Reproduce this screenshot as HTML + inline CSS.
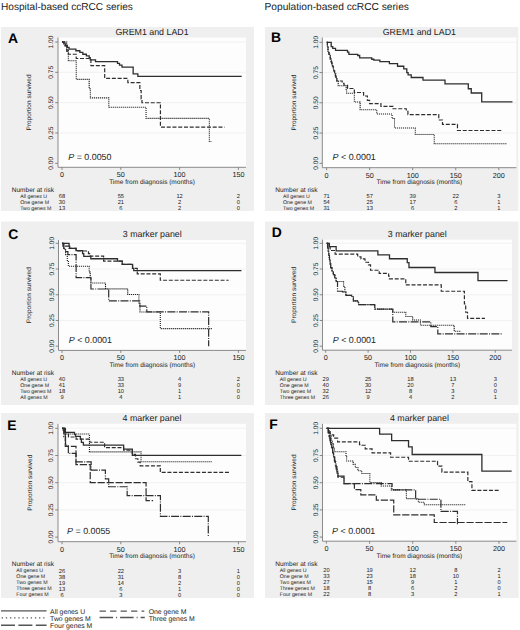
<!DOCTYPE html>
<html><head><meta charset="utf-8"><style>
html,body{margin:0;padding:0;background:#fff;}
svg{display:block;font-family:"Liberation Sans", sans-serif;}
</style></head><body>
<svg width="520" height="630" viewBox="0 0 520 630" text-rendering="geometricPrecision">
<text x="1.00" y="9.50" font-size="10.1" text-anchor="start" font-weight="normal" font-style="normal" fill="#222">Hospital-based ccRCC series</text>
<text x="264.50" y="9.50" font-size="10.2" text-anchor="start" font-weight="normal" font-style="normal" fill="#222">Population-based ccRCC series</text>
<rect x="1" y="27" width="253.00" height="184.00" fill="#efefef"/>
<rect x="58" y="37.5" width="188.00" height="129.80" fill="#fdfdfd"/>
<line x1="58.00" y1="132.98" x2="246.00" y2="132.98" stroke="#efefef" stroke-width="0.9"/>
<line x1="58.00" y1="102.65" x2="246.00" y2="102.65" stroke="#efefef" stroke-width="0.9"/>
<line x1="58.00" y1="72.33" x2="246.00" y2="72.33" stroke="#efefef" stroke-width="0.9"/>
<line x1="58.00" y1="42.00" x2="246.00" y2="42.00" stroke="#efefef" stroke-width="0.9"/>
<line x1="58.00" y1="37.50" x2="58.00" y2="167.30" stroke="#8a8a8a" stroke-width="1"/>
<line x1="58.00" y1="167.30" x2="246.00" y2="167.30" stroke="#8a8a8a" stroke-width="1"/>
<line x1="55.20" y1="163.30" x2="58.00" y2="163.30" stroke="#7a7a7a" stroke-width="0.9"/>
<text x="53.40" y="163.30" font-size="6.6" text-anchor="middle" font-weight="normal" font-style="normal" fill="#222" transform="rotate(-90 53.4 163.3)" dominant-baseline="auto">0.00</text>
<line x1="55.20" y1="132.98" x2="58.00" y2="132.98" stroke="#7a7a7a" stroke-width="0.9"/>
<text x="53.40" y="132.98" font-size="6.6" text-anchor="middle" font-weight="normal" font-style="normal" fill="#222" transform="rotate(-90 53.4 132.97500000000002)" dominant-baseline="auto">0.25</text>
<line x1="55.20" y1="102.65" x2="58.00" y2="102.65" stroke="#7a7a7a" stroke-width="0.9"/>
<text x="53.40" y="102.65" font-size="6.6" text-anchor="middle" font-weight="normal" font-style="normal" fill="#222" transform="rotate(-90 53.4 102.65)" dominant-baseline="auto">0.50</text>
<line x1="55.20" y1="72.33" x2="58.00" y2="72.33" stroke="#7a7a7a" stroke-width="0.9"/>
<text x="53.40" y="72.33" font-size="6.6" text-anchor="middle" font-weight="normal" font-style="normal" fill="#222" transform="rotate(-90 53.4 72.325)" dominant-baseline="auto">0.75</text>
<line x1="55.20" y1="42.00" x2="58.00" y2="42.00" stroke="#7a7a7a" stroke-width="0.9"/>
<text x="53.40" y="42.00" font-size="6.6" text-anchor="middle" font-weight="normal" font-style="normal" fill="#222" transform="rotate(-90 53.4 42.0)" dominant-baseline="auto">1.00</text>
<line x1="62.00" y1="167.30" x2="62.00" y2="169.80" stroke="#7a7a7a" stroke-width="0.9"/>
<text x="62.00" y="177.10" font-size="7.2" text-anchor="middle" font-weight="normal" font-style="normal" fill="#222">0</text>
<line x1="120.80" y1="167.30" x2="120.80" y2="169.80" stroke="#7a7a7a" stroke-width="0.9"/>
<text x="120.80" y="177.10" font-size="7.2" text-anchor="middle" font-weight="normal" font-style="normal" fill="#222">50</text>
<line x1="179.60" y1="167.30" x2="179.60" y2="169.80" stroke="#7a7a7a" stroke-width="0.9"/>
<text x="179.60" y="177.10" font-size="7.2" text-anchor="middle" font-weight="normal" font-style="normal" fill="#222">100</text>
<line x1="238.40" y1="167.30" x2="238.40" y2="169.80" stroke="#7a7a7a" stroke-width="0.9"/>
<text x="238.40" y="177.10" font-size="7.2" text-anchor="middle" font-weight="normal" font-style="normal" fill="#222">150</text>
<text x="31.50" y="102.40" font-size="6.5" text-anchor="middle" font-weight="normal" font-style="normal" fill="#222" transform="rotate(-90 31.5 102.4)">Proportion survived</text>
<text x="152.00" y="183.70" font-size="6.5" text-anchor="middle" font-weight="normal" font-style="normal" fill="#222">Time from diagnosis (months)</text>
<text x="152.00" y="35.20" font-size="8.85" text-anchor="middle" font-weight="normal" font-style="normal" fill="#222">GREM1 and LAD1</text>
<text x="8.00" y="43.00" font-size="13.9" text-anchor="start" font-weight="bold" font-style="normal" fill="#000">A</text>
<text x="68.30" y="159.60" font-size="8.9" fill="#222"><tspan font-style="italic">P</tspan> = 0.0050</text>
<text x="11.80" y="191.80" font-size="6.5" text-anchor="start" font-weight="normal" font-style="normal" fill="#222">Number at risk</text>
<text x="20.20" y="197.80" font-size="5.25" text-anchor="start" font-weight="normal" font-style="normal" fill="#222">All genes U</text>
<text x="62.00" y="198.00" font-size="5.7" text-anchor="middle" font-weight="normal" font-style="normal" fill="#222">68</text>
<text x="120.80" y="198.00" font-size="5.7" text-anchor="middle" font-weight="normal" font-style="normal" fill="#222">55</text>
<text x="179.60" y="198.00" font-size="5.7" text-anchor="middle" font-weight="normal" font-style="normal" fill="#222">12</text>
<text x="238.40" y="198.00" font-size="5.7" text-anchor="middle" font-weight="normal" font-style="normal" fill="#222">2</text>
<text x="20.20" y="203.80" font-size="5.25" text-anchor="start" font-weight="normal" font-style="normal" fill="#222">One gene M</text>
<text x="62.00" y="204.00" font-size="5.7" text-anchor="middle" font-weight="normal" font-style="normal" fill="#222">30</text>
<text x="120.80" y="204.00" font-size="5.7" text-anchor="middle" font-weight="normal" font-style="normal" fill="#222">21</text>
<text x="179.60" y="204.00" font-size="5.7" text-anchor="middle" font-weight="normal" font-style="normal" fill="#222">2</text>
<text x="238.40" y="204.00" font-size="5.7" text-anchor="middle" font-weight="normal" font-style="normal" fill="#222">0</text>
<text x="20.20" y="209.80" font-size="5.25" text-anchor="start" font-weight="normal" font-style="normal" fill="#222">Two genes M</text>
<text x="62.00" y="210.00" font-size="5.7" text-anchor="middle" font-weight="normal" font-style="normal" fill="#222">13</text>
<text x="120.80" y="210.00" font-size="5.7" text-anchor="middle" font-weight="normal" font-style="normal" fill="#222">6</text>
<text x="179.60" y="210.00" font-size="5.7" text-anchor="middle" font-weight="normal" font-style="normal" fill="#222">2</text>
<text x="238.40" y="210.00" font-size="5.7" text-anchor="middle" font-weight="normal" font-style="normal" fill="#222">0</text>
<path d="M62.00,42.00 L66.70,42.00 L66.70,51.34 L68.35,51.34 L68.35,60.68 L76.23,60.68 L76.23,79.36 L89.17,79.36 L89.17,88.70 L90.34,88.70 L90.34,97.92 L108.80,97.92 L108.80,107.26 L146.08,107.26 L146.08,118.42 L209.35,118.42 L209.35,141.47 L211.35,141.47" fill="none" stroke="#1a1a1a" stroke-width="1.1" stroke-dasharray="1.1 0.9"/>
<path d="M62.00,42.00 L64.94,42.00 L64.94,46.00 L66.70,46.00 L66.70,50.13 L68.35,50.13 L68.35,54.25 L76.23,54.25 L76.23,58.50 L90.93,58.50 L90.93,65.65 L104.69,65.65 L104.69,78.39 L127.86,78.39 L127.86,82.64 L139.85,82.64 L139.85,90.52 L141.14,90.52 L141.14,99.01 L141.97,99.01 L141.97,102.77 L160.43,102.77 L160.43,127.03 L224.64,127.03" fill="none" stroke="#2e2e2e" stroke-width="1.2" stroke-dasharray="4 1.75"/>
<path d="M62.00,42.00 L63.76,42.00 L63.76,43.82 L65.53,43.82 L65.53,45.52 L67.29,45.52 L67.29,47.34 L69.06,47.34 L69.06,49.04 L75.88,49.04 L75.88,50.73 L79.88,50.73 L79.88,52.43 L82.82,52.43 L82.82,54.25 L86.34,54.25 L86.34,55.95 L89.17,55.95 L89.17,57.65 L90.22,57.65 L90.22,59.95 L95.52,59.95 L95.52,61.65 L117.51,61.65 L117.51,63.35 L119.51,63.35 L119.51,65.05 L121.98,65.05 L121.98,67.11 L133.15,67.11 L133.15,73.78 L137.85,73.78 L137.85,76.33 L241.69,76.33" fill="none" stroke="#2e2e2e" stroke-width="1.3"/>
<rect x="265" y="27" width="253.30" height="184.00" fill="#efefef"/>
<rect x="322.3" y="37.5" width="194.10" height="130.20" fill="#fdfdfd"/>
<line x1="322.30" y1="133.05" x2="516.40" y2="133.05" stroke="#efefef" stroke-width="0.9"/>
<line x1="322.30" y1="102.80" x2="516.40" y2="102.80" stroke="#efefef" stroke-width="0.9"/>
<line x1="322.30" y1="72.55" x2="516.40" y2="72.55" stroke="#efefef" stroke-width="0.9"/>
<line x1="322.30" y1="42.30" x2="516.40" y2="42.30" stroke="#efefef" stroke-width="0.9"/>
<line x1="322.30" y1="37.50" x2="322.30" y2="167.70" stroke="#8a8a8a" stroke-width="1"/>
<line x1="322.30" y1="167.70" x2="516.40" y2="167.70" stroke="#8a8a8a" stroke-width="1"/>
<line x1="319.50" y1="163.30" x2="322.30" y2="163.30" stroke="#7a7a7a" stroke-width="0.9"/>
<text x="317.70" y="163.30" font-size="6.6" text-anchor="middle" font-weight="normal" font-style="normal" fill="#222" transform="rotate(-90 317.7 163.3)" dominant-baseline="auto">0.00</text>
<line x1="319.50" y1="133.05" x2="322.30" y2="133.05" stroke="#7a7a7a" stroke-width="0.9"/>
<text x="317.70" y="133.05" font-size="6.6" text-anchor="middle" font-weight="normal" font-style="normal" fill="#222" transform="rotate(-90 317.7 133.05)" dominant-baseline="auto">0.25</text>
<line x1="319.50" y1="102.80" x2="322.30" y2="102.80" stroke="#7a7a7a" stroke-width="0.9"/>
<text x="317.70" y="102.80" font-size="6.6" text-anchor="middle" font-weight="normal" font-style="normal" fill="#222" transform="rotate(-90 317.7 102.80000000000001)" dominant-baseline="auto">0.50</text>
<line x1="319.50" y1="72.55" x2="322.30" y2="72.55" stroke="#7a7a7a" stroke-width="0.9"/>
<text x="317.70" y="72.55" font-size="6.6" text-anchor="middle" font-weight="normal" font-style="normal" fill="#222" transform="rotate(-90 317.7 72.55)" dominant-baseline="auto">0.75</text>
<line x1="319.50" y1="42.30" x2="322.30" y2="42.30" stroke="#7a7a7a" stroke-width="0.9"/>
<text x="317.70" y="42.30" font-size="6.6" text-anchor="middle" font-weight="normal" font-style="normal" fill="#222" transform="rotate(-90 317.7 42.3)" dominant-baseline="auto">1.00</text>
<line x1="326.60" y1="167.70" x2="326.60" y2="170.20" stroke="#7a7a7a" stroke-width="0.9"/>
<text x="326.60" y="177.50" font-size="7.2" text-anchor="middle" font-weight="normal" font-style="normal" fill="#222">0</text>
<line x1="369.65" y1="167.70" x2="369.65" y2="170.20" stroke="#7a7a7a" stroke-width="0.9"/>
<text x="369.65" y="177.50" font-size="7.2" text-anchor="middle" font-weight="normal" font-style="normal" fill="#222">50</text>
<line x1="412.70" y1="167.70" x2="412.70" y2="170.20" stroke="#7a7a7a" stroke-width="0.9"/>
<text x="412.70" y="177.50" font-size="7.2" text-anchor="middle" font-weight="normal" font-style="normal" fill="#222">100</text>
<line x1="455.75" y1="167.70" x2="455.75" y2="170.20" stroke="#7a7a7a" stroke-width="0.9"/>
<text x="455.75" y="177.50" font-size="7.2" text-anchor="middle" font-weight="normal" font-style="normal" fill="#222">150</text>
<line x1="498.80" y1="167.70" x2="498.80" y2="170.20" stroke="#7a7a7a" stroke-width="0.9"/>
<text x="498.80" y="177.50" font-size="7.2" text-anchor="middle" font-weight="normal" font-style="normal" fill="#222">200</text>
<text x="296.10" y="102.60" font-size="6.5" text-anchor="middle" font-weight="normal" font-style="normal" fill="#222" transform="rotate(-90 296.1 102.6)">Proportion survived</text>
<text x="419.35" y="184.10" font-size="6.5" text-anchor="middle" font-weight="normal" font-style="normal" fill="#222">Time from diagnosis (months)</text>
<text x="419.35" y="35.00" font-size="8.85" text-anchor="middle" font-weight="normal" font-style="normal" fill="#222">GREM1 and LAD1</text>
<text x="271.00" y="41.60" font-size="13.9" text-anchor="start" font-weight="bold" font-style="normal" fill="#000">B</text>
<text x="332.60" y="159.60" font-size="8.9" fill="#222"><tspan font-style="italic">P</tspan> < 0.0001</text>
<text x="275.30" y="191.80" font-size="6.5" text-anchor="start" font-weight="normal" font-style="normal" fill="#222">Number at risk</text>
<text x="283.00" y="197.80" font-size="5.25" text-anchor="start" font-weight="normal" font-style="normal" fill="#222">All genes U</text>
<text x="326.60" y="198.00" font-size="5.7" text-anchor="middle" font-weight="normal" font-style="normal" fill="#222">71</text>
<text x="369.65" y="198.00" font-size="5.7" text-anchor="middle" font-weight="normal" font-style="normal" fill="#222">57</text>
<text x="412.70" y="198.00" font-size="5.7" text-anchor="middle" font-weight="normal" font-style="normal" fill="#222">39</text>
<text x="455.75" y="198.00" font-size="5.7" text-anchor="middle" font-weight="normal" font-style="normal" fill="#222">22</text>
<text x="498.80" y="198.00" font-size="5.7" text-anchor="middle" font-weight="normal" font-style="normal" fill="#222">3</text>
<text x="283.00" y="203.80" font-size="5.25" text-anchor="start" font-weight="normal" font-style="normal" fill="#222">One gene M</text>
<text x="326.60" y="204.00" font-size="5.7" text-anchor="middle" font-weight="normal" font-style="normal" fill="#222">54</text>
<text x="369.65" y="204.00" font-size="5.7" text-anchor="middle" font-weight="normal" font-style="normal" fill="#222">25</text>
<text x="412.70" y="204.00" font-size="5.7" text-anchor="middle" font-weight="normal" font-style="normal" fill="#222">17</text>
<text x="455.75" y="204.00" font-size="5.7" text-anchor="middle" font-weight="normal" font-style="normal" fill="#222">6</text>
<text x="498.80" y="204.00" font-size="5.7" text-anchor="middle" font-weight="normal" font-style="normal" fill="#222">1</text>
<text x="283.00" y="209.80" font-size="5.25" text-anchor="start" font-weight="normal" font-style="normal" fill="#222">Two genes M</text>
<text x="326.60" y="210.00" font-size="5.7" text-anchor="middle" font-weight="normal" font-style="normal" fill="#222">31</text>
<text x="369.65" y="210.00" font-size="5.7" text-anchor="middle" font-weight="normal" font-style="normal" fill="#222">13</text>
<text x="412.70" y="210.00" font-size="5.7" text-anchor="middle" font-weight="normal" font-style="normal" fill="#222">6</text>
<text x="455.75" y="210.00" font-size="5.7" text-anchor="middle" font-weight="normal" font-style="normal" fill="#222">2</text>
<text x="498.80" y="210.00" font-size="5.7" text-anchor="middle" font-weight="normal" font-style="normal" fill="#222">1</text>
<path d="M326.70,42.30 L327.39,42.30 L327.39,47.14 L328.00,47.14 L328.00,51.50 L329.10,51.50 L329.10,55.19 L330.21,55.19 L330.21,58.88 L331.31,58.88 L331.31,62.57 L332.42,62.57 L332.42,66.26 L333.52,66.26 L333.52,69.95 L334.62,69.95 L334.62,73.64 L335.73,73.64 L335.73,77.33 L336.83,77.33 L336.83,81.02 L338.22,81.02 L338.22,85.74 L346.19,85.74 L346.19,89.49 L346.62,89.49 L346.62,93.24 L354.33,93.24 L354.33,101.95 L360.13,101.95 L360.13,109.82 L376.75,109.82 L376.75,114.05 L392.08,114.05 L392.08,118.53 L394.51,118.53 L394.51,127.97 L415.29,127.97 L415.29,134.50 L434.26,134.50 L434.26,143.70 L506.74,143.70" fill="none" stroke="#1a1a1a" stroke-width="1.1" stroke-dasharray="1.1 0.9"/>
<path d="M326.70,42.30 L327.39,42.30 L327.39,47.14 L328.00,47.14 L328.00,51.50 L328.74,51.50 L328.74,53.96 L329.47,53.96 L329.47,56.42 L330.21,56.42 L330.21,58.88 L330.94,58.88 L330.94,61.34 L331.68,61.34 L331.68,63.80 L332.42,63.80 L332.42,66.26 L333.15,66.26 L333.15,68.72 L333.89,68.72 L333.89,71.18 L334.62,71.18 L334.62,73.64 L335.36,73.64 L335.36,76.10 L336.10,76.10 L336.10,78.56 L336.83,78.56 L336.83,81.02 L342.20,81.02 L342.20,83.44 L344.02,83.44 L344.02,85.25 L347.57,85.25 L347.57,88.52 L354.33,88.52 L354.33,92.52 L363.59,92.52 L363.59,96.02 L367.40,96.02 L367.40,100.38 L369.57,100.38 L369.57,103.65 L380.91,103.65 L380.91,106.31 L393.04,106.31 L393.04,108.73 L406.29,108.73 L406.29,111.27 L407.93,111.27 L407.93,114.54 L438.76,114.54 L438.76,119.98 L442.48,119.98 L442.48,124.46 L457.47,124.46 L457.47,130.51 L501.29,130.51" fill="none" stroke="#2e2e2e" stroke-width="1.2" stroke-dasharray="4 1.75"/>
<path d="M326.70,42.30 L331.20,42.30 L331.20,46.66 L332.76,46.66 L332.76,48.35 L335.53,48.35 L335.53,50.41 L347.48,50.41 L347.48,52.10 L348.87,52.10 L348.87,54.40 L357.70,54.40 L357.70,55.49 L359.69,55.49 L359.69,57.91 L371.73,57.91 L371.73,59.24 L373.81,59.24 L373.81,60.21 L379.87,60.21 L379.87,61.66 L389.40,61.66 L389.40,63.72 L397.54,63.72 L397.54,66.26 L403.77,66.26 L403.77,68.80 L406.81,68.80 L406.81,72.55 L408.10,72.55 L408.10,74.97 L411.22,74.97 L411.22,77.51 L423.00,77.51 L423.00,80.05 L445.00,80.05 L445.00,83.80 L468.29,83.80 L468.29,88.76 L471.24,88.76 L471.24,93.00 L481.71,93.00 L481.71,101.95 L512.46,101.95" fill="none" stroke="#2e2e2e" stroke-width="1.3"/>
<rect x="1" y="221.5" width="253.00" height="183.50" fill="#efefef"/>
<rect x="58.5" y="239.9" width="187.50" height="110.50" fill="#fdfdfd"/>
<line x1="58.50" y1="320.48" x2="246.00" y2="320.48" stroke="#efefef" stroke-width="0.9"/>
<line x1="58.50" y1="294.75" x2="246.00" y2="294.75" stroke="#efefef" stroke-width="0.9"/>
<line x1="58.50" y1="269.02" x2="246.00" y2="269.02" stroke="#efefef" stroke-width="0.9"/>
<line x1="58.50" y1="243.30" x2="246.00" y2="243.30" stroke="#efefef" stroke-width="0.9"/>
<line x1="58.50" y1="239.90" x2="58.50" y2="350.40" stroke="#8a8a8a" stroke-width="1"/>
<line x1="58.50" y1="350.40" x2="246.00" y2="350.40" stroke="#8a8a8a" stroke-width="1"/>
<line x1="55.70" y1="346.20" x2="58.50" y2="346.20" stroke="#7a7a7a" stroke-width="0.9"/>
<text x="53.90" y="346.20" font-size="6.6" text-anchor="middle" font-weight="normal" font-style="normal" fill="#222" transform="rotate(-90 53.9 346.2)" dominant-baseline="auto">0.00</text>
<line x1="55.70" y1="320.48" x2="58.50" y2="320.48" stroke="#7a7a7a" stroke-width="0.9"/>
<text x="53.90" y="320.48" font-size="6.6" text-anchor="middle" font-weight="normal" font-style="normal" fill="#222" transform="rotate(-90 53.9 320.475)" dominant-baseline="auto">0.25</text>
<line x1="55.70" y1="294.75" x2="58.50" y2="294.75" stroke="#7a7a7a" stroke-width="0.9"/>
<text x="53.90" y="294.75" font-size="6.6" text-anchor="middle" font-weight="normal" font-style="normal" fill="#222" transform="rotate(-90 53.9 294.75)" dominant-baseline="auto">0.50</text>
<line x1="55.70" y1="269.02" x2="58.50" y2="269.02" stroke="#7a7a7a" stroke-width="0.9"/>
<text x="53.90" y="269.02" font-size="6.6" text-anchor="middle" font-weight="normal" font-style="normal" fill="#222" transform="rotate(-90 53.9 269.025)" dominant-baseline="auto">0.75</text>
<line x1="55.70" y1="243.30" x2="58.50" y2="243.30" stroke="#7a7a7a" stroke-width="0.9"/>
<text x="53.90" y="243.30" font-size="6.6" text-anchor="middle" font-weight="normal" font-style="normal" fill="#222" transform="rotate(-90 53.9 243.3)" dominant-baseline="auto">1.00</text>
<line x1="62.00" y1="350.40" x2="62.00" y2="352.90" stroke="#7a7a7a" stroke-width="0.9"/>
<text x="62.00" y="360.20" font-size="7.2" text-anchor="middle" font-weight="normal" font-style="normal" fill="#222">0</text>
<line x1="120.80" y1="350.40" x2="120.80" y2="352.90" stroke="#7a7a7a" stroke-width="0.9"/>
<text x="120.80" y="360.20" font-size="7.2" text-anchor="middle" font-weight="normal" font-style="normal" fill="#222">50</text>
<line x1="179.60" y1="350.40" x2="179.60" y2="352.90" stroke="#7a7a7a" stroke-width="0.9"/>
<text x="179.60" y="360.20" font-size="7.2" text-anchor="middle" font-weight="normal" font-style="normal" fill="#222">100</text>
<line x1="238.40" y1="350.40" x2="238.40" y2="352.90" stroke="#7a7a7a" stroke-width="0.9"/>
<text x="238.40" y="360.20" font-size="7.2" text-anchor="middle" font-weight="normal" font-style="normal" fill="#222">150</text>
<text x="31.50" y="295.15" font-size="6.5" text-anchor="middle" font-weight="normal" font-style="normal" fill="#222" transform="rotate(-90 31.5 295.15)">Proportion survived</text>
<text x="152.25" y="366.80" font-size="6.5" text-anchor="middle" font-weight="normal" font-style="normal" fill="#222">Time from diagnosis (months)</text>
<text x="152.25" y="236.70" font-size="8.85" text-anchor="middle" font-weight="normal" font-style="normal" fill="#222">3 marker panel</text>
<text x="8.30" y="238.50" font-size="13.9" text-anchor="start" font-weight="bold" font-style="normal" fill="#000">C</text>
<text x="68.80" y="342.80" font-size="8.9" fill="#222"><tspan font-style="italic">P</tspan> < 0.0001</text>
<text x="11.80" y="374.50" font-size="6.5" text-anchor="start" font-weight="normal" font-style="normal" fill="#222">Number at risk</text>
<text x="20.20" y="380.50" font-size="5.25" text-anchor="start" font-weight="normal" font-style="normal" fill="#222">All genes U</text>
<text x="62.00" y="380.70" font-size="5.7" text-anchor="middle" font-weight="normal" font-style="normal" fill="#222">40</text>
<text x="120.80" y="380.70" font-size="5.7" text-anchor="middle" font-weight="normal" font-style="normal" fill="#222">33</text>
<text x="179.60" y="380.70" font-size="5.7" text-anchor="middle" font-weight="normal" font-style="normal" fill="#222">4</text>
<text x="238.40" y="380.70" font-size="5.7" text-anchor="middle" font-weight="normal" font-style="normal" fill="#222">2</text>
<text x="20.20" y="386.50" font-size="5.25" text-anchor="start" font-weight="normal" font-style="normal" fill="#222">One gene M</text>
<text x="62.00" y="386.70" font-size="5.7" text-anchor="middle" font-weight="normal" font-style="normal" fill="#222">41</text>
<text x="120.80" y="386.70" font-size="5.7" text-anchor="middle" font-weight="normal" font-style="normal" fill="#222">33</text>
<text x="179.60" y="386.70" font-size="5.7" text-anchor="middle" font-weight="normal" font-style="normal" fill="#222">9</text>
<text x="238.40" y="386.70" font-size="5.7" text-anchor="middle" font-weight="normal" font-style="normal" fill="#222">0</text>
<text x="20.20" y="392.50" font-size="5.25" text-anchor="start" font-weight="normal" font-style="normal" fill="#222">Two genes M</text>
<text x="62.00" y="392.70" font-size="5.7" text-anchor="middle" font-weight="normal" font-style="normal" fill="#222">18</text>
<text x="120.80" y="392.70" font-size="5.7" text-anchor="middle" font-weight="normal" font-style="normal" fill="#222">10</text>
<text x="179.60" y="392.70" font-size="5.7" text-anchor="middle" font-weight="normal" font-style="normal" fill="#222">1</text>
<text x="238.40" y="392.70" font-size="5.7" text-anchor="middle" font-weight="normal" font-style="normal" fill="#222">0</text>
<text x="20.20" y="398.50" font-size="5.25" text-anchor="start" font-weight="normal" font-style="normal" fill="#222">All genes M</text>
<text x="62.00" y="398.70" font-size="5.7" text-anchor="middle" font-weight="normal" font-style="normal" fill="#222">9</text>
<text x="120.80" y="398.70" font-size="5.7" text-anchor="middle" font-weight="normal" font-style="normal" fill="#222">4</text>
<text x="179.60" y="398.70" font-size="5.7" text-anchor="middle" font-weight="normal" font-style="normal" fill="#222">1</text>
<text x="238.40" y="398.70" font-size="5.7" text-anchor="middle" font-weight="normal" font-style="normal" fill="#222">0</text>
<path d="M62.00,243.30 L63.76,243.30 L63.76,249.06 L65.53,249.06 L65.53,254.72 L67.29,254.72 L67.29,260.48 L68.35,260.48 L68.35,266.25 L89.17,266.25 L89.17,272.11 L90.22,272.11 L90.22,277.57 L90.93,277.57 L90.93,283.02 L105.51,283.02 L105.51,288.88 L127.74,288.88 L127.74,294.44 L138.91,294.44 L138.91,302.98 L139.97,302.98 L139.97,311.93 L160.31,311.93 L160.31,328.60 L212.06,328.60" fill="none" stroke="#1a1a1a" stroke-width="1.1" stroke-dasharray="1.1 0.9"/>
<path d="M62.00,243.30 L63.76,243.30 L63.76,248.45 L65.53,248.45 L65.53,251.53 L67.88,251.53 L67.88,254.72 L76.11,254.72 L76.11,277.57 L90.93,277.57 L90.93,288.99 L108.69,288.99 L108.69,300.82 L139.73,300.82 L139.73,306.07 L146.79,306.07 L146.79,311.93 L208.65,311.93 L208.65,346.20 L208.65,346.20" fill="none" stroke="#2e2e2e" stroke-width="1.2" stroke-dasharray="8 1.3 1 1.3"/>
<path d="M62.00,243.30 L62.94,243.30 L62.94,246.08 L69.06,246.08 L69.06,248.45 L76.11,248.45 L76.11,251.02 L88.46,251.02 L88.46,253.59 L90.22,253.59 L90.22,256.16 L103.63,256.16 L103.63,261.10 L122.21,261.10 L122.21,264.29 L132.56,264.29 L132.56,268.30 L137.26,268.30 L137.26,273.86 L160.31,273.86 L160.31,280.24 L228.64,280.24" fill="none" stroke="#2e2e2e" stroke-width="1.2" stroke-dasharray="4 1.75"/>
<path d="M62.00,243.30 L69.06,243.30 L69.06,246.08 L69.64,246.08 L69.64,248.45 L76.11,248.45 L76.11,250.71 L82.58,250.71 L82.58,253.59 L83.76,253.59 L83.76,256.47 L90.81,256.47 L90.81,258.74 L117.51,258.74 L117.51,261.10 L122.21,261.10 L122.21,264.29 L132.56,264.29 L132.56,268.30 L133.74,268.30 L133.74,270.57 L241.46,270.57" fill="none" stroke="#2e2e2e" stroke-width="1.3"/>
<rect x="265" y="221.5" width="253.50" height="183.50" fill="#efefef"/>
<rect x="322.5" y="239.6" width="189.50" height="110.60" fill="#fdfdfd"/>
<line x1="322.50" y1="320.48" x2="512.00" y2="320.48" stroke="#efefef" stroke-width="0.9"/>
<line x1="322.50" y1="294.75" x2="512.00" y2="294.75" stroke="#efefef" stroke-width="0.9"/>
<line x1="322.50" y1="269.02" x2="512.00" y2="269.02" stroke="#efefef" stroke-width="0.9"/>
<line x1="322.50" y1="243.30" x2="512.00" y2="243.30" stroke="#efefef" stroke-width="0.9"/>
<line x1="322.50" y1="239.60" x2="322.50" y2="350.20" stroke="#8a8a8a" stroke-width="1"/>
<line x1="322.50" y1="350.20" x2="512.00" y2="350.20" stroke="#8a8a8a" stroke-width="1"/>
<line x1="319.70" y1="346.20" x2="322.50" y2="346.20" stroke="#7a7a7a" stroke-width="0.9"/>
<text x="317.90" y="346.20" font-size="6.6" text-anchor="middle" font-weight="normal" font-style="normal" fill="#222" transform="rotate(-90 317.9 346.2)" dominant-baseline="auto">0.00</text>
<line x1="319.70" y1="320.48" x2="322.50" y2="320.48" stroke="#7a7a7a" stroke-width="0.9"/>
<text x="317.90" y="320.48" font-size="6.6" text-anchor="middle" font-weight="normal" font-style="normal" fill="#222" transform="rotate(-90 317.9 320.475)" dominant-baseline="auto">0.25</text>
<line x1="319.70" y1="294.75" x2="322.50" y2="294.75" stroke="#7a7a7a" stroke-width="0.9"/>
<text x="317.90" y="294.75" font-size="6.6" text-anchor="middle" font-weight="normal" font-style="normal" fill="#222" transform="rotate(-90 317.9 294.75)" dominant-baseline="auto">0.50</text>
<line x1="319.70" y1="269.02" x2="322.50" y2="269.02" stroke="#7a7a7a" stroke-width="0.9"/>
<text x="317.90" y="269.02" font-size="6.6" text-anchor="middle" font-weight="normal" font-style="normal" fill="#222" transform="rotate(-90 317.9 269.025)" dominant-baseline="auto">0.75</text>
<line x1="319.70" y1="243.30" x2="322.50" y2="243.30" stroke="#7a7a7a" stroke-width="0.9"/>
<text x="317.90" y="243.30" font-size="6.6" text-anchor="middle" font-weight="normal" font-style="normal" fill="#222" transform="rotate(-90 317.9 243.3)" dominant-baseline="auto">1.00</text>
<line x1="325.70" y1="350.20" x2="325.70" y2="352.70" stroke="#7a7a7a" stroke-width="0.9"/>
<text x="325.70" y="360.00" font-size="7.2" text-anchor="middle" font-weight="normal" font-style="normal" fill="#222">0</text>
<line x1="368.10" y1="350.20" x2="368.10" y2="352.70" stroke="#7a7a7a" stroke-width="0.9"/>
<text x="368.10" y="360.00" font-size="7.2" text-anchor="middle" font-weight="normal" font-style="normal" fill="#222">50</text>
<line x1="410.50" y1="350.20" x2="410.50" y2="352.70" stroke="#7a7a7a" stroke-width="0.9"/>
<text x="410.50" y="360.00" font-size="7.2" text-anchor="middle" font-weight="normal" font-style="normal" fill="#222">100</text>
<line x1="452.90" y1="350.20" x2="452.90" y2="352.70" stroke="#7a7a7a" stroke-width="0.9"/>
<text x="452.90" y="360.00" font-size="7.2" text-anchor="middle" font-weight="normal" font-style="normal" fill="#222">150</text>
<line x1="495.30" y1="350.20" x2="495.30" y2="352.70" stroke="#7a7a7a" stroke-width="0.9"/>
<text x="495.30" y="360.00" font-size="7.2" text-anchor="middle" font-weight="normal" font-style="normal" fill="#222">200</text>
<text x="296.10" y="294.90" font-size="6.5" text-anchor="middle" font-weight="normal" font-style="normal" fill="#222" transform="rotate(-90 296.1 294.9)">Proportion survived</text>
<text x="417.25" y="366.60" font-size="6.5" text-anchor="middle" font-weight="normal" font-style="normal" fill="#222">Time from diagnosis (months)</text>
<text x="417.25" y="236.70" font-size="8.85" text-anchor="middle" font-weight="normal" font-style="normal" fill="#222">3 marker panel</text>
<text x="271.70" y="237.30" font-size="13.9" text-anchor="start" font-weight="bold" font-style="normal" fill="#000">D</text>
<text x="332.80" y="342.80" font-size="8.9" fill="#222"><tspan font-style="italic">P</tspan> < 0.0001</text>
<text x="275.30" y="374.50" font-size="6.5" text-anchor="start" font-weight="normal" font-style="normal" fill="#222">Number at risk</text>
<text x="279.80" y="380.50" font-size="5.25" text-anchor="start" font-weight="normal" font-style="normal" fill="#222">All genes U</text>
<text x="325.70" y="380.70" font-size="5.7" text-anchor="middle" font-weight="normal" font-style="normal" fill="#222">29</text>
<text x="368.10" y="380.70" font-size="5.7" text-anchor="middle" font-weight="normal" font-style="normal" fill="#222">25</text>
<text x="410.50" y="380.70" font-size="5.7" text-anchor="middle" font-weight="normal" font-style="normal" fill="#222">18</text>
<text x="452.90" y="380.70" font-size="5.7" text-anchor="middle" font-weight="normal" font-style="normal" fill="#222">13</text>
<text x="495.30" y="380.70" font-size="5.7" text-anchor="middle" font-weight="normal" font-style="normal" fill="#222">3</text>
<text x="279.80" y="386.50" font-size="5.25" text-anchor="start" font-weight="normal" font-style="normal" fill="#222">One gene M</text>
<text x="325.70" y="386.70" font-size="5.7" text-anchor="middle" font-weight="normal" font-style="normal" fill="#222">40</text>
<text x="368.10" y="386.70" font-size="5.7" text-anchor="middle" font-weight="normal" font-style="normal" fill="#222">30</text>
<text x="410.50" y="386.70" font-size="5.7" text-anchor="middle" font-weight="normal" font-style="normal" fill="#222">20</text>
<text x="452.90" y="386.70" font-size="5.7" text-anchor="middle" font-weight="normal" font-style="normal" fill="#222">7</text>
<text x="495.30" y="386.70" font-size="5.7" text-anchor="middle" font-weight="normal" font-style="normal" fill="#222">0</text>
<text x="279.80" y="392.50" font-size="5.25" text-anchor="start" font-weight="normal" font-style="normal" fill="#222">Two genes M</text>
<text x="325.70" y="392.70" font-size="5.7" text-anchor="middle" font-weight="normal" font-style="normal" fill="#222">32</text>
<text x="368.10" y="392.70" font-size="5.7" text-anchor="middle" font-weight="normal" font-style="normal" fill="#222">12</text>
<text x="410.50" y="392.70" font-size="5.7" text-anchor="middle" font-weight="normal" font-style="normal" fill="#222">8</text>
<text x="452.90" y="392.70" font-size="5.7" text-anchor="middle" font-weight="normal" font-style="normal" fill="#222">3</text>
<text x="495.30" y="392.70" font-size="5.7" text-anchor="middle" font-weight="normal" font-style="normal" fill="#222">0</text>
<text x="279.80" y="398.50" font-size="5.25" text-anchor="start" font-weight="normal" font-style="normal" fill="#222">Three genes M</text>
<text x="325.70" y="398.70" font-size="5.7" text-anchor="middle" font-weight="normal" font-style="normal" fill="#222">26</text>
<text x="368.10" y="398.70" font-size="5.7" text-anchor="middle" font-weight="normal" font-style="normal" fill="#222">9</text>
<text x="410.50" y="398.70" font-size="5.7" text-anchor="middle" font-weight="normal" font-style="normal" fill="#222">4</text>
<text x="452.90" y="398.70" font-size="5.7" text-anchor="middle" font-weight="normal" font-style="normal" fill="#222">2</text>
<text x="495.30" y="398.70" font-size="5.7" text-anchor="middle" font-weight="normal" font-style="normal" fill="#222">1</text>
<path d="M326.70,243.30 L327.49,243.30 L327.49,246.77 L328.02,246.77 L328.02,250.24 L328.56,250.24 L328.56,253.71 L329.09,253.71 L329.09,257.18 L329.62,257.18 L329.62,260.65 L330.15,260.65 L330.15,264.12 L330.68,264.12 L330.68,267.58 L331.77,267.58 L331.77,270.36 L332.87,270.36 L332.87,273.14 L333.96,273.14 L333.96,275.92 L335.05,275.92 L335.05,278.70 L336.14,278.70 L336.14,281.48 L343.59,281.48 L343.59,286.52 L344.89,286.52 L344.89,291.87 L345.93,291.87 L345.93,295.37 L351.73,295.37 L351.73,296.50 L353.37,296.50 L353.37,300.92 L357.53,300.92 L357.53,302.36 L358.57,302.36 L358.57,304.63 L374.76,304.63 L374.76,309.16 L392.78,309.16 L392.78,312.24 L405.77,312.24 L405.77,316.56 L412.69,316.56 L412.69,320.06 L420.49,320.06 L420.49,325.31 L454.18,325.31 L454.18,331.28 L461.10,331.28" fill="none" stroke="#1a1a1a" stroke-width="1.1" stroke-dasharray="1.1 0.9"/>
<path d="M326.70,243.30 L327.58,243.30 L327.58,247.35 L328.20,247.35 L328.20,251.39 L328.82,251.39 L328.82,255.44 L329.44,255.44 L329.44,259.49 L330.06,259.49 L330.06,263.54 L330.68,263.54 L330.68,267.58 L332.05,267.58 L332.05,271.06 L333.41,271.06 L333.41,274.53 L334.78,274.53 L334.78,278.00 L336.14,278.00 L336.14,281.48 L337.52,281.48 L337.52,291.25 L342.46,291.25 L342.46,291.87 L345.93,291.87 L345.93,295.37 L351.73,295.37 L351.73,296.50 L353.37,296.50 L353.37,300.92 L357.53,300.92 L357.53,302.36 L358.57,302.36 L358.57,304.63 L374.76,304.63 L374.76,309.16 L392.78,309.16 L392.78,321.81 L430.79,321.81 L430.79,326.65 L437.81,326.65 L437.81,333.85 L502.32,333.85" fill="none" stroke="#2e2e2e" stroke-width="1.2" stroke-dasharray="8 1.3 1 1.3"/>
<path d="M326.70,243.30 L328.00,243.30 L328.00,246.70 L330.16,246.70 L330.16,250.50 L335.10,250.50 L335.10,254.21 L357.70,254.21 L357.70,256.78 L360.99,256.78 L360.99,258.94 L364.98,258.94 L364.98,262.23 L368.44,262.23 L368.44,264.91 L370.52,264.91 L370.52,270.26 L379.18,270.26 L379.18,273.35 L388.62,273.35 L388.62,276.23 L389.40,276.23 L389.40,278.80 L405.77,278.80 L405.77,284.97 L441.27,284.97 L441.27,291.25 L464.39,291.25 L464.39,304.01 L465.69,304.01 L465.69,312.24 L467.51,312.24 L467.51,318.31 L485.00,318.31" fill="none" stroke="#2e2e2e" stroke-width="1.2" stroke-dasharray="4 1.75"/>
<path d="M326.70,243.30 L329.38,243.30 L329.38,246.70 L336.14,246.70 L336.14,250.81 L377.88,250.81 L377.88,254.82 L389.49,254.82 L389.49,258.74 L407.24,258.74 L407.24,262.54 L408.97,262.54 L408.97,267.48 L434.95,267.48 L434.95,272.52 L477.99,272.52 L477.99,280.55 L507.52,280.55" fill="none" stroke="#2e2e2e" stroke-width="1.3"/>
<rect x="1" y="413" width="253.00" height="185.00" fill="#efefef"/>
<rect x="58" y="423.8" width="188.00" height="117.90" fill="#fdfdfd"/>
<line x1="58.00" y1="509.90" x2="246.00" y2="509.90" stroke="#efefef" stroke-width="0.9"/>
<line x1="58.00" y1="482.70" x2="246.00" y2="482.70" stroke="#efefef" stroke-width="0.9"/>
<line x1="58.00" y1="455.50" x2="246.00" y2="455.50" stroke="#efefef" stroke-width="0.9"/>
<line x1="58.00" y1="428.30" x2="246.00" y2="428.30" stroke="#efefef" stroke-width="0.9"/>
<line x1="58.00" y1="423.80" x2="58.00" y2="541.70" stroke="#8a8a8a" stroke-width="1"/>
<line x1="58.00" y1="541.70" x2="246.00" y2="541.70" stroke="#8a8a8a" stroke-width="1"/>
<line x1="55.20" y1="537.10" x2="58.00" y2="537.10" stroke="#7a7a7a" stroke-width="0.9"/>
<text x="53.40" y="537.10" font-size="6.6" text-anchor="middle" font-weight="normal" font-style="normal" fill="#222" transform="rotate(-90 53.4 537.1)" dominant-baseline="auto">0.00</text>
<line x1="55.20" y1="509.90" x2="58.00" y2="509.90" stroke="#7a7a7a" stroke-width="0.9"/>
<text x="53.40" y="509.90" font-size="6.6" text-anchor="middle" font-weight="normal" font-style="normal" fill="#222" transform="rotate(-90 53.4 509.90000000000003)" dominant-baseline="auto">0.25</text>
<line x1="55.20" y1="482.70" x2="58.00" y2="482.70" stroke="#7a7a7a" stroke-width="0.9"/>
<text x="53.40" y="482.70" font-size="6.6" text-anchor="middle" font-weight="normal" font-style="normal" fill="#222" transform="rotate(-90 53.4 482.70000000000005)" dominant-baseline="auto">0.50</text>
<line x1="55.20" y1="455.50" x2="58.00" y2="455.50" stroke="#7a7a7a" stroke-width="0.9"/>
<text x="53.40" y="455.50" font-size="6.6" text-anchor="middle" font-weight="normal" font-style="normal" fill="#222" transform="rotate(-90 53.4 455.5)" dominant-baseline="auto">0.75</text>
<line x1="55.20" y1="428.30" x2="58.00" y2="428.30" stroke="#7a7a7a" stroke-width="0.9"/>
<text x="53.40" y="428.30" font-size="6.6" text-anchor="middle" font-weight="normal" font-style="normal" fill="#222" transform="rotate(-90 53.4 428.3)" dominant-baseline="auto">1.00</text>
<line x1="62.00" y1="541.70" x2="62.00" y2="544.20" stroke="#7a7a7a" stroke-width="0.9"/>
<text x="62.00" y="551.50" font-size="7.2" text-anchor="middle" font-weight="normal" font-style="normal" fill="#222">0</text>
<line x1="120.80" y1="541.70" x2="120.80" y2="544.20" stroke="#7a7a7a" stroke-width="0.9"/>
<text x="120.80" y="551.50" font-size="7.2" text-anchor="middle" font-weight="normal" font-style="normal" fill="#222">50</text>
<line x1="179.60" y1="541.70" x2="179.60" y2="544.20" stroke="#7a7a7a" stroke-width="0.9"/>
<text x="179.60" y="551.50" font-size="7.2" text-anchor="middle" font-weight="normal" font-style="normal" fill="#222">100</text>
<line x1="238.40" y1="541.70" x2="238.40" y2="544.20" stroke="#7a7a7a" stroke-width="0.9"/>
<text x="238.40" y="551.50" font-size="7.2" text-anchor="middle" font-weight="normal" font-style="normal" fill="#222">150</text>
<text x="31.50" y="482.75" font-size="6.5" text-anchor="middle" font-weight="normal" font-style="normal" fill="#222" transform="rotate(-90 31.5 482.75)">Proportion survived</text>
<text x="152.00" y="558.10" font-size="6.5" text-anchor="middle" font-weight="normal" font-style="normal" fill="#222">Time from diagnosis (months)</text>
<text x="152.00" y="421.00" font-size="8.85" text-anchor="middle" font-weight="normal" font-style="normal" fill="#222">4 marker panel</text>
<text x="7.30" y="429.70" font-size="13.9" text-anchor="start" font-weight="bold" font-style="normal" fill="#000">E</text>
<text x="67.10" y="533.50" font-size="8.9" fill="#222"><tspan font-style="italic">P</tspan> = 0.0055</text>
<text x="11.80" y="566.40" font-size="6.5" text-anchor="start" font-weight="normal" font-style="normal" fill="#222">Number at risk</text>
<text x="16.30" y="572.40" font-size="5.25" text-anchor="start" font-weight="normal" font-style="normal" fill="#222">All genes U</text>
<text x="62.00" y="572.60" font-size="5.7" text-anchor="middle" font-weight="normal" font-style="normal" fill="#222">26</text>
<text x="120.80" y="572.60" font-size="5.7" text-anchor="middle" font-weight="normal" font-style="normal" fill="#222">22</text>
<text x="179.60" y="572.60" font-size="5.7" text-anchor="middle" font-weight="normal" font-style="normal" fill="#222">3</text>
<text x="238.40" y="572.60" font-size="5.7" text-anchor="middle" font-weight="normal" font-style="normal" fill="#222">1</text>
<text x="16.30" y="578.40" font-size="5.25" text-anchor="start" font-weight="normal" font-style="normal" fill="#222">One gene M</text>
<text x="62.00" y="578.60" font-size="5.7" text-anchor="middle" font-weight="normal" font-style="normal" fill="#222">38</text>
<text x="120.80" y="578.60" font-size="5.7" text-anchor="middle" font-weight="normal" font-style="normal" fill="#222">31</text>
<text x="179.60" y="578.60" font-size="5.7" text-anchor="middle" font-weight="normal" font-style="normal" fill="#222">8</text>
<text x="238.40" y="578.60" font-size="5.7" text-anchor="middle" font-weight="normal" font-style="normal" fill="#222">0</text>
<text x="16.30" y="584.40" font-size="5.25" text-anchor="start" font-weight="normal" font-style="normal" fill="#222">Two genes M</text>
<text x="62.00" y="584.60" font-size="5.7" text-anchor="middle" font-weight="normal" font-style="normal" fill="#222">19</text>
<text x="120.80" y="584.60" font-size="5.7" text-anchor="middle" font-weight="normal" font-style="normal" fill="#222">14</text>
<text x="179.60" y="584.60" font-size="5.7" text-anchor="middle" font-weight="normal" font-style="normal" fill="#222">2</text>
<text x="238.40" y="584.60" font-size="5.7" text-anchor="middle" font-weight="normal" font-style="normal" fill="#222">0</text>
<text x="16.30" y="590.40" font-size="5.25" text-anchor="start" font-weight="normal" font-style="normal" fill="#222">Three genes M</text>
<text x="62.00" y="590.60" font-size="5.7" text-anchor="middle" font-weight="normal" font-style="normal" fill="#222">13</text>
<text x="120.80" y="590.60" font-size="5.7" text-anchor="middle" font-weight="normal" font-style="normal" fill="#222">6</text>
<text x="179.60" y="590.60" font-size="5.7" text-anchor="middle" font-weight="normal" font-style="normal" fill="#222">1</text>
<text x="238.40" y="590.60" font-size="5.7" text-anchor="middle" font-weight="normal" font-style="normal" fill="#222">0</text>
<text x="16.30" y="596.40" font-size="5.25" text-anchor="start" font-weight="normal" font-style="normal" fill="#222">Four genes M</text>
<text x="62.00" y="596.60" font-size="5.7" text-anchor="middle" font-weight="normal" font-style="normal" fill="#222">6</text>
<text x="120.80" y="596.60" font-size="5.7" text-anchor="middle" font-weight="normal" font-style="normal" fill="#222">3</text>
<text x="179.60" y="596.60" font-size="5.7" text-anchor="middle" font-weight="normal" font-style="normal" fill="#222">0</text>
<text x="238.40" y="596.60" font-size="5.7" text-anchor="middle" font-weight="normal" font-style="normal" fill="#222">0</text>
<path d="M62.00,428.30 L65.29,428.30 L65.29,446.47 L75.99,446.47 L75.99,464.53 L90.22,464.53 L90.22,482.70 L146.08,482.70 L146.08,500.65 L153.14,500.65" fill="none" stroke="#2e2e2e" stroke-width="1.2" stroke-dasharray="7.2 1.8"/>
<path d="M62.00,428.30 L63.76,428.30 L63.76,436.68 L65.53,436.68 L65.53,445.06 L68.35,445.06 L68.35,453.43 L75.99,453.43 L75.99,461.81 L91.16,461.81 L91.16,470.19 L105.39,470.19 L105.39,478.89 L108.69,478.89 L108.69,486.73 L127.15,486.73 L127.15,495.54 L160.43,495.54 L160.43,516.43 L208.29,516.43 L208.29,537.10 L208.29,537.10" fill="none" stroke="#2e2e2e" stroke-width="1.2" stroke-dasharray="8 1.3 1 1.3"/>
<path d="M62.00,428.30 L65.53,428.30 L65.53,434.07 L89.40,434.07 L89.40,451.91 L141.03,451.91 L141.03,461.70 L212.41,461.70" fill="none" stroke="#1a1a1a" stroke-width="1.1" stroke-dasharray="1.1 0.9"/>
<path d="M62.00,428.30 L63.18,428.30 L63.18,431.13 L64.94,431.13 L64.94,434.07 L68.47,434.07 L68.47,437.00 L76.11,437.00 L76.11,439.18 L89.87,439.18 L89.87,442.23 L104.57,442.23 L104.57,447.56 L123.62,447.56 L123.62,450.06 L132.32,450.06 L132.32,454.41 L135.50,454.41 L135.50,458.76 L137.85,458.76 L137.85,462.03 L140.20,462.03 L140.20,465.84 L160.31,465.84 L160.31,472.36 L229.70,472.36" fill="none" stroke="#2e2e2e" stroke-width="1.2" stroke-dasharray="4 1.75"/>
<path d="M62.00,428.30 L64.35,428.30 L64.35,432.33 L74.47,432.33 L74.47,434.39 L75.52,434.39 L75.52,436.46 L80.35,436.46 L80.35,439.18 L81.40,439.18 L81.40,442.44 L83.40,442.44 L83.40,445.16 L123.62,445.16 L123.62,449.19 L132.32,449.19 L132.32,455.28 L241.34,455.28" fill="none" stroke="#2e2e2e" stroke-width="1.3"/>
<rect x="265" y="413" width="253.60" height="185.00" fill="#efefef"/>
<rect x="322.5" y="423.8" width="193.80" height="117.40" fill="#fdfdfd"/>
<line x1="322.50" y1="509.90" x2="516.30" y2="509.90" stroke="#efefef" stroke-width="0.9"/>
<line x1="322.50" y1="482.70" x2="516.30" y2="482.70" stroke="#efefef" stroke-width="0.9"/>
<line x1="322.50" y1="455.50" x2="516.30" y2="455.50" stroke="#efefef" stroke-width="0.9"/>
<line x1="322.50" y1="428.30" x2="516.30" y2="428.30" stroke="#efefef" stroke-width="0.9"/>
<line x1="322.50" y1="423.80" x2="322.50" y2="541.20" stroke="#8a8a8a" stroke-width="1"/>
<line x1="322.50" y1="541.20" x2="516.30" y2="541.20" stroke="#8a8a8a" stroke-width="1"/>
<line x1="319.70" y1="537.10" x2="322.50" y2="537.10" stroke="#7a7a7a" stroke-width="0.9"/>
<text x="317.90" y="537.10" font-size="6.6" text-anchor="middle" font-weight="normal" font-style="normal" fill="#222" transform="rotate(-90 317.9 537.1)" dominant-baseline="auto">0.00</text>
<line x1="319.70" y1="509.90" x2="322.50" y2="509.90" stroke="#7a7a7a" stroke-width="0.9"/>
<text x="317.90" y="509.90" font-size="6.6" text-anchor="middle" font-weight="normal" font-style="normal" fill="#222" transform="rotate(-90 317.9 509.90000000000003)" dominant-baseline="auto">0.25</text>
<line x1="319.70" y1="482.70" x2="322.50" y2="482.70" stroke="#7a7a7a" stroke-width="0.9"/>
<text x="317.90" y="482.70" font-size="6.6" text-anchor="middle" font-weight="normal" font-style="normal" fill="#222" transform="rotate(-90 317.9 482.70000000000005)" dominant-baseline="auto">0.50</text>
<line x1="319.70" y1="455.50" x2="322.50" y2="455.50" stroke="#7a7a7a" stroke-width="0.9"/>
<text x="317.90" y="455.50" font-size="6.6" text-anchor="middle" font-weight="normal" font-style="normal" fill="#222" transform="rotate(-90 317.9 455.5)" dominant-baseline="auto">0.75</text>
<line x1="319.70" y1="428.30" x2="322.50" y2="428.30" stroke="#7a7a7a" stroke-width="0.9"/>
<text x="317.90" y="428.30" font-size="6.6" text-anchor="middle" font-weight="normal" font-style="normal" fill="#222" transform="rotate(-90 317.9 428.3)" dominant-baseline="auto">1.00</text>
<line x1="326.40" y1="541.20" x2="326.40" y2="543.70" stroke="#7a7a7a" stroke-width="0.9"/>
<text x="326.40" y="551.00" font-size="7.2" text-anchor="middle" font-weight="normal" font-style="normal" fill="#222">0</text>
<line x1="369.55" y1="541.20" x2="369.55" y2="543.70" stroke="#7a7a7a" stroke-width="0.9"/>
<text x="369.55" y="551.00" font-size="7.2" text-anchor="middle" font-weight="normal" font-style="normal" fill="#222">50</text>
<line x1="412.70" y1="541.20" x2="412.70" y2="543.70" stroke="#7a7a7a" stroke-width="0.9"/>
<text x="412.70" y="551.00" font-size="7.2" text-anchor="middle" font-weight="normal" font-style="normal" fill="#222">100</text>
<line x1="455.85" y1="541.20" x2="455.85" y2="543.70" stroke="#7a7a7a" stroke-width="0.9"/>
<text x="455.85" y="551.00" font-size="7.2" text-anchor="middle" font-weight="normal" font-style="normal" fill="#222">150</text>
<line x1="499.00" y1="541.20" x2="499.00" y2="543.70" stroke="#7a7a7a" stroke-width="0.9"/>
<text x="499.00" y="551.00" font-size="7.2" text-anchor="middle" font-weight="normal" font-style="normal" fill="#222">200</text>
<text x="296.10" y="482.50" font-size="6.5" text-anchor="middle" font-weight="normal" font-style="normal" fill="#222" transform="rotate(-90 296.1 482.5)">Proportion survived</text>
<text x="419.40" y="557.60" font-size="6.5" text-anchor="middle" font-weight="normal" font-style="normal" fill="#222">Time from diagnosis (months)</text>
<text x="419.40" y="421.00" font-size="8.85" text-anchor="middle" font-weight="normal" font-style="normal" fill="#222">4 marker panel</text>
<text x="269.20" y="429.40" font-size="13.9" text-anchor="start" font-weight="bold" font-style="normal" fill="#000">F</text>
<text x="332.10" y="533.50" font-size="8.9" fill="#222"><tspan font-style="italic">P</tspan> < 0.0001</text>
<text x="275.30" y="566.20" font-size="6.5" text-anchor="start" font-weight="normal" font-style="normal" fill="#222">Number at risk</text>
<text x="279.70" y="572.20" font-size="5.25" text-anchor="start" font-weight="normal" font-style="normal" fill="#222">All genes U</text>
<text x="326.40" y="572.40" font-size="5.7" text-anchor="middle" font-weight="normal" font-style="normal" fill="#222">20</text>
<text x="369.55" y="572.40" font-size="5.7" text-anchor="middle" font-weight="normal" font-style="normal" fill="#222">19</text>
<text x="412.70" y="572.40" font-size="5.7" text-anchor="middle" font-weight="normal" font-style="normal" fill="#222">12</text>
<text x="455.85" y="572.40" font-size="5.7" text-anchor="middle" font-weight="normal" font-style="normal" fill="#222">8</text>
<text x="499.00" y="572.40" font-size="5.7" text-anchor="middle" font-weight="normal" font-style="normal" fill="#222">2</text>
<text x="279.70" y="578.20" font-size="5.25" text-anchor="start" font-weight="normal" font-style="normal" fill="#222">One gene M</text>
<text x="326.40" y="578.40" font-size="5.7" text-anchor="middle" font-weight="normal" font-style="normal" fill="#222">33</text>
<text x="369.55" y="578.40" font-size="5.7" text-anchor="middle" font-weight="normal" font-style="normal" fill="#222">23</text>
<text x="412.70" y="578.40" font-size="5.7" text-anchor="middle" font-weight="normal" font-style="normal" fill="#222">18</text>
<text x="455.85" y="578.40" font-size="5.7" text-anchor="middle" font-weight="normal" font-style="normal" fill="#222">10</text>
<text x="499.00" y="578.40" font-size="5.7" text-anchor="middle" font-weight="normal" font-style="normal" fill="#222">1</text>
<text x="279.70" y="584.20" font-size="5.25" text-anchor="start" font-weight="normal" font-style="normal" fill="#222">Two genes M</text>
<text x="326.40" y="584.40" font-size="5.7" text-anchor="middle" font-weight="normal" font-style="normal" fill="#222">27</text>
<text x="369.55" y="584.40" font-size="5.7" text-anchor="middle" font-weight="normal" font-style="normal" fill="#222">15</text>
<text x="412.70" y="584.40" font-size="5.7" text-anchor="middle" font-weight="normal" font-style="normal" fill="#222">9</text>
<text x="455.85" y="584.40" font-size="5.7" text-anchor="middle" font-weight="normal" font-style="normal" fill="#222">1</text>
<text x="499.00" y="584.40" font-size="5.7" text-anchor="middle" font-weight="normal" font-style="normal" fill="#222">0</text>
<text x="279.70" y="590.20" font-size="5.25" text-anchor="start" font-weight="normal" font-style="normal" fill="#222">Three genes M</text>
<text x="326.40" y="590.40" font-size="5.7" text-anchor="middle" font-weight="normal" font-style="normal" fill="#222">18</text>
<text x="369.55" y="590.40" font-size="5.7" text-anchor="middle" font-weight="normal" font-style="normal" fill="#222">8</text>
<text x="412.70" y="590.40" font-size="5.7" text-anchor="middle" font-weight="normal" font-style="normal" fill="#222">6</text>
<text x="455.85" y="590.40" font-size="5.7" text-anchor="middle" font-weight="normal" font-style="normal" fill="#222">2</text>
<text x="499.00" y="590.40" font-size="5.7" text-anchor="middle" font-weight="normal" font-style="normal" fill="#222">0</text>
<text x="279.70" y="596.20" font-size="5.25" text-anchor="start" font-weight="normal" font-style="normal" fill="#222">Four genes M</text>
<text x="326.40" y="596.40" font-size="5.7" text-anchor="middle" font-weight="normal" font-style="normal" fill="#222">22</text>
<text x="369.55" y="596.40" font-size="5.7" text-anchor="middle" font-weight="normal" font-style="normal" fill="#222">8</text>
<text x="412.70" y="596.40" font-size="5.7" text-anchor="middle" font-weight="normal" font-style="normal" fill="#222">3</text>
<text x="455.85" y="596.40" font-size="5.7" text-anchor="middle" font-weight="normal" font-style="normal" fill="#222">2</text>
<text x="499.00" y="596.40" font-size="5.7" text-anchor="middle" font-weight="normal" font-style="normal" fill="#222">1</text>
<path d="M326.70,428.30 L328.19,428.30 L328.19,432.38 L329.08,432.38 L329.08,436.46 L329.97,436.46 L329.97,440.54 L330.86,440.54 L330.86,444.62 L331.74,444.62 L331.74,448.70 L332.63,448.70 L332.63,452.78 L333.52,452.78 L333.52,456.86 L334.41,456.86 L334.41,460.94 L335.30,460.94 L335.30,465.02 L336.18,465.02 L336.18,469.10 L337.07,469.10 L337.07,473.18 L337.96,473.18 L337.96,477.26 L344.02,477.26 L344.02,483.57 L354.41,483.57 L354.41,489.55 L360.82,489.55 L360.82,494.78 L376.32,494.78 L376.32,500.22 L393.73,500.22 L393.73,514.80 L434.26,514.80 L434.26,522.52 L507.26,522.52" fill="none" stroke="#2e2e2e" stroke-width="1.2" stroke-dasharray="7.2 1.8"/>
<path d="M326.70,428.30 L328.37,428.30 L328.37,433.09 L329.44,433.09 L329.44,437.87 L330.50,437.87 L330.50,442.66 L331.57,442.66 L331.57,447.45 L332.63,447.45 L332.63,452.24 L333.70,452.24 L333.70,457.02 L334.76,457.02 L334.76,461.81 L335.83,461.81 L335.83,466.60 L336.89,466.60 L336.89,471.38 L337.96,471.38 L337.96,476.17 L344.02,476.17 L344.02,483.57 L392.08,483.57 L392.08,489.88 L415.64,489.88 L415.64,499.24 L440.93,499.24 L440.93,511.42 L457.47,511.42 L457.47,523.61 L457.90,523.61" fill="none" stroke="#2e2e2e" stroke-width="1.2" stroke-dasharray="8 1.3 1 1.3"/>
<path d="M326.70,428.30 L329.08,428.30 L329.08,432.20 L330.16,432.20 L330.16,436.10 L331.25,436.10 L331.25,440.00 L332.33,440.00 L332.33,443.89 L333.41,443.89 L333.41,447.79 L334.49,447.79 L334.49,451.69 L346.01,451.69 L346.01,456.59 L346.62,456.59 L346.62,460.94 L353.20,460.94 L353.20,464.42 L355.28,464.42 L355.28,467.47 L357.88,467.47 L357.88,470.73 L361.77,470.73 L361.77,473.56 L369.83,473.56 L369.83,482.48 L381.17,482.48 L381.17,485.96 L391.30,485.96 L391.30,489.88 L406.37,489.88 L406.37,498.58 L418.32,498.58 L418.32,502.28 L424.30,502.28 L424.30,504.79 L465.26,504.79" fill="none" stroke="#1a1a1a" stroke-width="1.1" stroke-dasharray="1.1 0.9"/>
<path d="M326.70,428.30 L328.43,428.30 L328.43,431.56 L330.16,431.56 L330.16,434.83 L333.63,434.83 L333.63,438.09 L337.61,438.09 L337.61,441.90 L359.52,441.90 L359.52,444.62 L361.34,444.62 L361.34,445.27 L365.24,445.27 L365.24,448.97 L372.08,448.97 L372.08,452.78 L390.61,452.78 L390.61,457.24 L408.54,457.24 L408.54,461.27 L437.55,461.27 L437.55,466.05 L441.88,466.05 L441.88,472.15 L467.86,472.15 L467.86,481.61 L471.93,481.61 L471.93,490.32 L499.64,490.32" fill="none" stroke="#2e2e2e" stroke-width="1.2" stroke-dasharray="4 1.75"/>
<path d="M326.70,428.30 L379.61,428.30 L379.61,434.18 L391.65,434.18 L391.65,440.70 L408.54,440.70 L408.54,446.80 L412.17,446.80 L412.17,454.52 L481.89,454.52 L481.89,471.06 L511.68,471.06" fill="none" stroke="#2e2e2e" stroke-width="1.3"/>
<line x1="1.00" y1="610.90" x2="46.60" y2="610.90" stroke="#555" stroke-width="1.4"/>
<line x1="1.70" y1="617.90" x2="46.60" y2="617.90" stroke="#555" stroke-width="1.3" stroke-dasharray="1.3 2.85"/>
<line x1="1.00" y1="625.30" x2="46.60" y2="625.30" stroke="#555" stroke-width="1.4" stroke-dasharray="14 3.4"/>
<line x1="99.60" y1="611.10" x2="144.30" y2="611.10" stroke="#555" stroke-width="1.4" stroke-dasharray="6.3 4.2"/>
<line x1="99.60" y1="617.50" x2="144.80" y2="617.50" stroke="#555" stroke-width="1.4" stroke-dasharray="13.5 3 1 3"/>
<text x="50.10" y="613.80" font-size="6.85" text-anchor="start" font-weight="normal" font-style="normal" fill="#1a1a1a">All genes U</text>
<text x="50.10" y="620.80" font-size="6.85" text-anchor="start" font-weight="normal" font-style="normal" fill="#1a1a1a">Two genes M</text>
<text x="50.10" y="627.90" font-size="6.85" text-anchor="start" font-weight="normal" font-style="normal" fill="#1a1a1a">Four genes M</text>
<text x="148.70" y="613.70" font-size="6.85" text-anchor="start" font-weight="normal" font-style="normal" fill="#1a1a1a">One gene M</text>
<text x="148.70" y="620.80" font-size="6.85" text-anchor="start" font-weight="normal" font-style="normal" fill="#1a1a1a">Three genes M</text>
</svg>
</body></html>
